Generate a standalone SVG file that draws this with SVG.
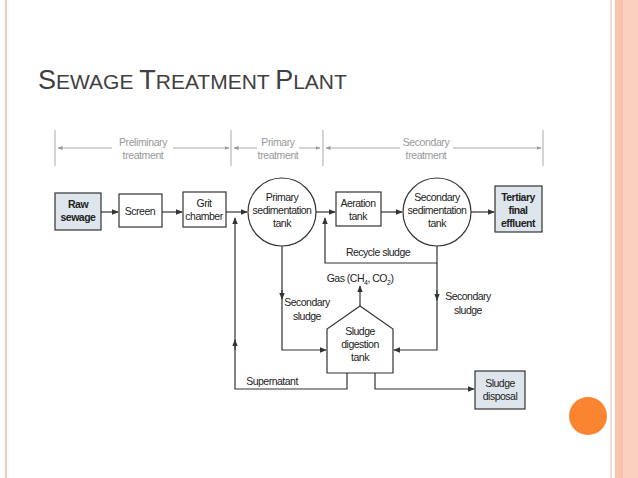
<svg xmlns="http://www.w3.org/2000/svg" width="638" height="478" viewBox="0 0 638 478">
<defs>
<marker id="ah" viewBox="0 0 10 10" refX="9" refY="5" markerWidth="6" markerHeight="6" orient="auto"><path d="M0,1 L10,5 L0,9 Z" fill="#333"/></marker>
<marker id="ahl" viewBox="0 0 10 10" refX="9" refY="5" markerWidth="5" markerHeight="5" orient="auto"><path d="M0,1 L10,5 L0,9 Z" fill="#999"/></marker>
<style>
.t{font-family:"Liberation Sans",sans-serif;font-size:10.5px;letter-spacing:-0.5px;fill:#222;text-anchor:middle}
.tl{font-family:"Liberation Sans",sans-serif;font-size:10.5px;letter-spacing:-0.4px;fill:#999;text-anchor:middle}
.b{fill:#fff;stroke:#333;stroke-width:1.2}
.s{fill:#dfe5ec;stroke:#333;stroke-width:1.2}
.c{fill:none;stroke:#333;stroke-width:1.2}
.g{fill:none;stroke:#aaa;stroke-width:1}
</style>
</defs>
<rect width="638" height="478" fill="#fff"/>
<line x1="6" y1="0" x2="6" y2="478" stroke="#f3c7bb" stroke-width="2"/>
<line x1="611" y1="0" x2="611" y2="478" stroke="#f7cfc3" stroke-width="1.5"/>
<rect x="615" y="0" width="6" height="478" fill="#f9c4b2"/>
<rect x="621" y="0" width="17" height="478" fill="#fcd0bf"/>
<line x1="622" y1="0" x2="622" y2="478" stroke="#f0b09c" stroke-width="1"/>
<circle cx="588" cy="416" r="19" fill="#fb8431"/>
<text x="38" y="89" font-family="Liberation Sans,sans-serif" fill="#404040"><tspan font-size="27">S</tspan><tspan font-size="21">EWAGE </tspan><tspan font-size="27">T</tspan><tspan font-size="21">REATMENT </tspan><tspan font-size="27">P</tspan><tspan font-size="21">LANT</tspan></text>

<g id="phases">
<line class="g" x1="55" y1="130" x2="55" y2="166"/><line class="g" x1="231" y1="130" x2="231" y2="166"/><line class="g" x1="323" y1="130" x2="323" y2="166"/><line class="g" x1="543" y1="130" x2="543" y2="166"/>
<line class="g" x1="112" y1="148" x2="58" y2="148" marker-end="url(#ahl)"/><line class="g" x1="173" y1="148" x2="229" y2="148" marker-end="url(#ahl)"/>
<line class="g" x1="257" y1="148" x2="234" y2="148" marker-end="url(#ahl)"/><line class="g" x1="299" y1="148" x2="320" y2="148" marker-end="url(#ahl)"/>
<line class="g" x1="400" y1="148" x2="326" y2="148" marker-end="url(#ahl)"/><line class="g" x1="453" y1="148" x2="541" y2="148" marker-end="url(#ahl)"/>
<text class="tl" x="143" y="146">Preliminary</text><text class="tl" x="143" y="159">treatment</text>
<text class="tl" x="278" y="146">Primary</text><text class="tl" x="278" y="159">treatment</text>
<text class="tl" x="426" y="146">Secondary</text><text class="tl" x="426" y="159">treatment</text>
</g>

<g id="raw"><rect class="s" x="55" y="193" width="46" height="37"/><text class="t" x="78" y="208" font-weight="bold">Raw</text><text class="t" x="78" y="221" font-weight="bold">sewage</text></g>
<g id="screen"><rect class="b" x="119" y="194" width="43" height="33"/><text class="t" x="140" y="215">Screen</text></g>
<g id="grit"><rect class="b" x="183" y="192" width="43" height="35"/><text class="t" x="204" y="207">Grit</text><text class="t" x="204" y="220">chamber</text></g>
<g id="primary"><circle class="b" cx="282" cy="212" r="34"/><text class="t" x="282" y="201">Primary</text><text class="t" x="282" y="214">sedimentation</text><text class="t" x="282" y="227">tank</text></g>
<g id="aeration"><rect class="b" x="336" y="192" width="45" height="34"/><text class="t" x="358" y="207">Aeration</text><text class="t" x="358" y="220">tank</text></g>
<g id="secondary"><circle class="b" cx="437" cy="212" r="34"/><text class="t" x="437" y="201">Secondary</text><text class="t" x="437" y="214">sedimentation</text><text class="t" x="437" y="227">tank</text></g>
<g id="tertiary"><rect class="s" x="495" y="186" width="47" height="46"/><text class="t" x="518" y="201" font-weight="bold">Tertiary</text><text class="t" x="518" y="214" font-weight="bold">final</text><text class="t" x="518" y="227" font-weight="bold">effluent</text></g>
<g id="digestion"><polygon class="b" points="327,373 327,329 360,306 393,329 393,373"/><text class="t" x="360" y="335">Sludge</text><text class="t" x="360" y="348">digestion</text><text class="t" x="360" y="361">tank</text></g>
<g id="disposal"><rect class="s" x="475" y="371" width="50" height="38"/><text class="t" x="500" y="387">Sludge</text><text class="t" x="500" y="400">disposal</text></g>

<g id="connectors">
<line class="c" x1="101" y1="212" x2="118" y2="212" marker-end="url(#ah)"/>
<line class="c" x1="162" y1="212" x2="182" y2="212" marker-end="url(#ah)"/>
<line class="c" x1="226" y1="212" x2="247" y2="212" marker-end="url(#ah)"/>
<line class="c" x1="316" y1="212" x2="335" y2="212" marker-end="url(#ah)"/>
<line class="c" x1="381" y1="212" x2="402" y2="212" marker-end="url(#ah)"/>
<line class="c" x1="471" y1="212" x2="494" y2="212" marker-end="url(#ah)"/>
<polyline class="c" points="437,246 437,263 325,263 325,218" marker-end="url(#ah)"/>
<text class="t" x="378" y="256">Recycle sludge</text>
<polyline class="c" points="282,246 282,350 326,350" marker-end="url(#ah)"/>
<line class="c" x1="282" y1="290" x2="282" y2="299" marker-end="url(#ah)"/>
<text class="t" x="307" y="306">Secondary</text><text class="t" x="307" y="320">sludge</text>
<polyline class="c" points="437,263 437,350 394,350" marker-end="url(#ah)"/>
<line class="c" x1="437" y1="290" x2="437" y2="300" marker-end="url(#ah)"/>
<text class="t" x="468" y="300">Secondary</text><text class="t" x="468" y="314">sludge</text>
<line class="c" x1="360" y1="306" x2="360" y2="286" marker-end="url(#ah)"/>
<text class="t" x="360" y="282">Gas (CH<tspan font-size="7" dy="3">4</tspan><tspan dy="-3">, CO</tspan><tspan font-size="7" dy="3">2</tspan><tspan dy="-3">)</tspan></text>
<polyline class="c" points="347,373 347,389 235,389 235,218" marker-end="url(#ah)"/>
<line class="c" x1="235" y1="350" x2="235" y2="340" marker-end="url(#ah)"/>
<text class="t" x="272" y="385">Supernatant</text>
<polyline class="c" points="375,373 375,389 474,389" marker-end="url(#ah)"/>
</g>
</svg>
